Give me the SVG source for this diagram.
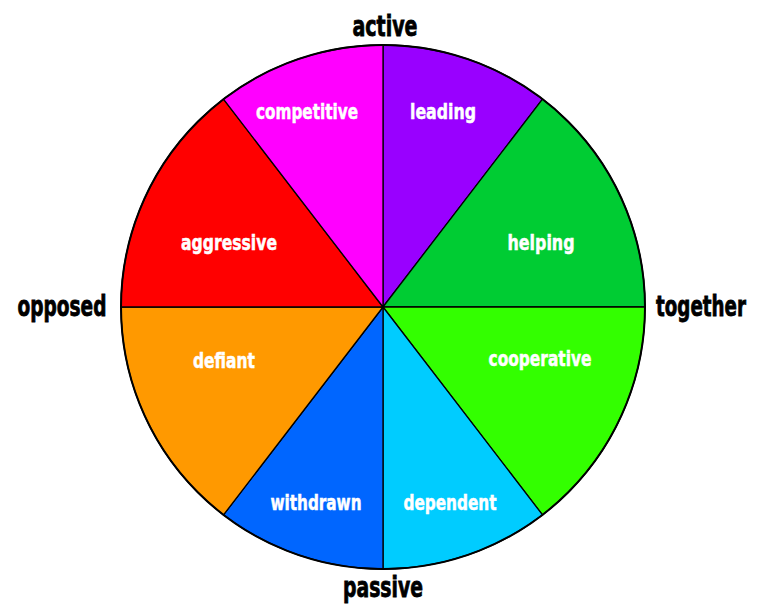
<svg xmlns="http://www.w3.org/2000/svg" width="768" height="614" viewBox="0 0 768 614">
<style>
.sec{stroke:#000;stroke-width:1.3;stroke-linejoin:round}
.in{font-family:"DejaVu Sans Condensed","DejaVu Sans",sans-serif;font-weight:bold;font-size:22px;fill:#fff;stroke:#fff;stroke-width:0.5;text-anchor:middle}
.out{font-family:"DejaVu Sans Condensed","DejaVu Sans",sans-serif;font-weight:bold;font-size:29px;fill:#000;stroke:#000;stroke-width:0.8;text-anchor:middle}
</style>
<rect width="768" height="614" fill="#fff"/>
<g id="wheel">
<g id="leading"><path class="sec" fill="#9900FF" d="M383 307 L383 45 A262 262 0 0 1 542.5 99.1 Z"/><text class="in" x="443" y="119" textLength="66" lengthAdjust="spacingAndGlyphs">leading</text></g>
<g id="helping"><path class="sec" fill="#00CC33" d="M383 307 L542.5 99.1 A262 262 0 0 1 645 307 Z"/><text class="in" x="541" y="250" textLength="67" lengthAdjust="spacingAndGlyphs">helping</text></g>
<g id="cooperative"><path class="sec" fill="#33FF00" d="M383 307 L645 307 A262 262 0 0 1 542.5 514.9 Z"/><text class="in" x="540" y="366" textLength="103" lengthAdjust="spacingAndGlyphs">cooperative</text></g>
<g id="dependent"><path class="sec" fill="#00CCFF" d="M383 307 L542.5 514.9 A262 262 0 0 1 383 569 Z"/><text class="in" x="450" y="510" textLength="93" lengthAdjust="spacingAndGlyphs">dependent</text></g>
<g id="withdrawn"><path class="sec" fill="#0066FF" d="M383 307 L383 569 A262 262 0 0 1 223.5 514.9 Z"/><text class="in" x="316" y="510" textLength="91" lengthAdjust="spacingAndGlyphs">withdrawn</text></g>
<g id="defiant"><path class="sec" fill="#FF9900" d="M383 307 L223.5 514.9 A262 262 0 0 1 121 307 Z"/><text class="in" x="224" y="368" textLength="62" lengthAdjust="spacingAndGlyphs">defiant</text></g>
<g id="aggressive"><path class="sec" fill="#FF0000" d="M383 307 L121 307 A262 262 0 0 1 223.5 99.1 Z"/><text class="in" x="229" y="250" textLength="96" lengthAdjust="spacingAndGlyphs">aggressive</text></g>
<g id="competitive"><path class="sec" fill="#FF00FF" d="M383 307 L223.5 99.1 A262 262 0 0 1 383 45 Z"/><text class="in" x="307" y="119" textLength="102" lengthAdjust="spacingAndGlyphs">competitive</text></g>
<circle cx="383" cy="307" r="262" fill="none" stroke="#000" stroke-width="2"/>
</g>
<g id="axis-labels">
<text class="out" x="385" y="36" textLength="65" lengthAdjust="spacingAndGlyphs">active</text>
<text class="out" x="62" y="316" textLength="89" lengthAdjust="spacingAndGlyphs">opposed</text>
<text class="out" transform="translate(701 316) scale(0.7 1)" x="0" y="0">together</text>
<text class="out" x="383" y="597" textLength="80" lengthAdjust="spacingAndGlyphs">passive</text>
</g>
</svg>
